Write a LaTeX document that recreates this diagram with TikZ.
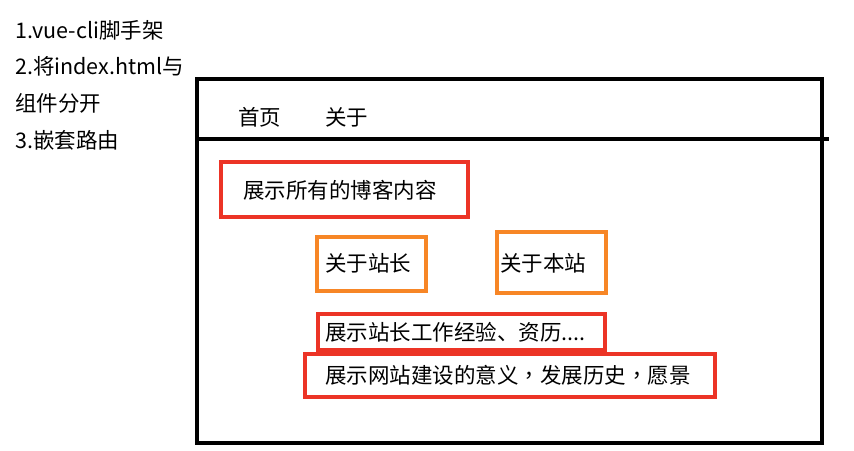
\documentclass[tikz,border=0pt]{standalone}
\usepackage{fontspec}
\setmainfont{Noto Sans CJK SC}
\newfontfamily\tcfont{Noto Sans CJK TC}
\newcommand\midcomma{{\tcfont ，}}
\definecolor{boxred}{RGB}{236,52,38}
\definecolor{boxorange}{RGB}{247,134,38}
\tikzset{
  txt/.style={anchor=west,inner sep=0pt,font=\fontsize{21.5}{25}\selectfont},
  redbox/.style={draw=boxred,line width=4pt},
  orangebox/.style={draw=boxorange,line width=4pt}
}
\begin{document}
\begin{tikzpicture}[x=1pt,y=-1pt]
\useasboundingbox[fill=white] (0,0) rectangle (854,450);
\node[txt] (s1) at (15,30) {1.vue-cli脚手架};
\node[txt] (s2) at (15,66) {2.将index.html与};
\node[txt] (s2b) at (15,103) {组件分开};
\node[txt] (s3) at (15,140) {3.嵌套路由};
\draw[line width=4pt] (197,79) rectangle (822,443);
\coordinate (navl) at (197,139);
\coordinate (navr) at (829,139);
\draw[line width=4pt] (navl) -- (navr);
\node[txt] (home) at (238,117) {首页};
\node[txt] (about) at (325,117) {关于};
\draw[redbox] (221,162) rectangle (468,217);
\node[txt] (blog) at (243,190) {展示所有的博客内容};
\draw[orangebox] (317,237) rectangle (426,291);
\node[txt] (owner) at (325,263) {关于站长};
\draw[orangebox] (497,232) rectangle (606,293);
\node[txt] (site) at (500,263) {关于本站};
\draw[redbox] (318,314) rectangle (605,350);
\node[txt] (exp) at (325,332) {展示站长工作经验、资历....};
\draw[redbox] (305,354) rectangle (715,397);
\node[txt] (hist) at (325,375) {展示网站建设的意义\midcomma 发展历史\midcomma 愿景};
\end{tikzpicture}
\end{document}
